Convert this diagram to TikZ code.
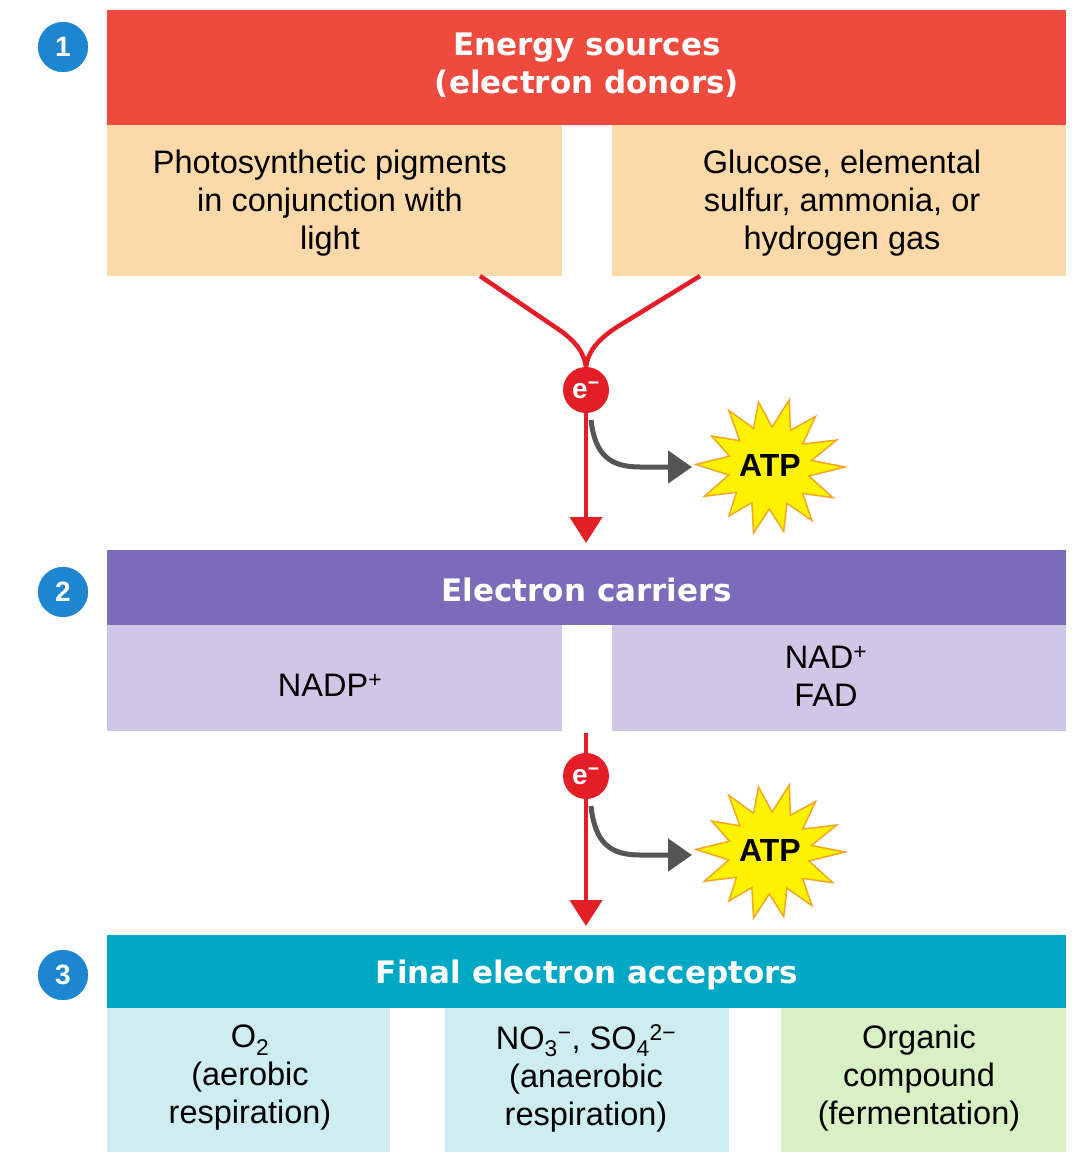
\documentclass[tikz,border=0pt]{standalone}
\usepackage{fontspec}
\setmainfont{Liberation Sans}
\newfontfamily\hdrfont{DejaVu Sans}[FakeStretch=1.0]
\usetikzlibrary{arrows.meta}
\definecolor{hred}{HTML}{EE4B3E}
\definecolor{orb}{HTML}{FCD9A8}
\definecolor{hpur}{HTML}{7B6BBA}
\definecolor{lpur}{HTML}{D0C6E6}
\definecolor{hteal}{HTML}{00A8C6}
\definecolor{lcy}{HTML}{CDEDF0}
\definecolor{lgr}{HTML}{D9EFC4}
\definecolor{nblue}{HTML}{1C86D1}
\definecolor{ered}{HTML}{E31E26}
\definecolor{agray}{HTML}{555555}
\definecolor{ayel}{HTML}{FFF200}
\definecolor{aor}{HTML}{F5A623}
\newcommand{\mystarburst}[1]{%
  \fill[ayel, draw=aor, line width=1.5pt] #1
   +(0:75) -- +(13:40) -- +(26:70) -- +(39:42) -- +(52:68) -- +(65:40) -- +(78:66)
   -- +(91:42) -- +(104:68) -- +(117:40) -- +(130:64) -- +(143:42) -- +(156:72)
   -- +(169:42) -- +(182:74) -- +(195:42) -- +(208:66) -- +(221:40) -- +(234:70)
   -- +(247:42) -- +(260:66) -- +(273:40) -- +(286:70) -- +(299:42) -- +(312:68)
   -- +(325:40) -- +(338:72) -- +(351:42) -- cycle;}
\begin{document}
\begin{tikzpicture}[x=1pt,y=-1pt,
  txt/.style={font=\fontsize{32.5}{38}\selectfont, align=center, text=black},
  hdr/.style={font=\hdrfont\fontsize{31}{38}\selectfont\bfseries, align=center, text=white},
  num/.style={circle, fill=nblue, draw=white, line width=1.5pt, minimum size=52pt, inner sep=0, text=white, font=\fontsize{28}{30}\selectfont\bfseries},
  ecirc/.style={circle, fill=ered, minimum size=46pt, inner sep=0, text=white, font=\fontsize{28}{30}\selectfont\bfseries},
  eline/.style={draw=ered, line width=4.5pt},
  garrow/.style={draw=agray, line width=5pt, -{Triangle[length=24pt,width=32pt]}},
  atp/.style={inner sep=0, font=\fontsize{32}{34}\selectfont\bfseries}]
\useasboundingbox (0,0) rectangle (1086,1158);
% section 1
\fill[hred] (107,10) rectangle (1066,125);
\fill[orb] (107,125) rectangle (562,276);
\fill[orb] (612,125) rectangle (1066,276);
\node[num] (n1) at (63,47) {1};
\node[hdr] (h1) at (587,65) {Energy sources\\(electron donors)};
\node[txt] (d1) at (330,203) {Photosynthetic pigments\\in conjunction with\\light};
\node[txt] (d2) at (842,203) {Glucose, elemental\\sulfur, ammonia, or\\hydrogen gas};
\coordinate (s1) at (480,276);
\coordinate (s2) at (700,276);
\node[ecirc] (e1) at (586,390) {e\textsuperscript{−}};
\draw[eline] (s1) -- (555,327) .. controls (575,340) and (584,352) .. (e1.north);
\draw[eline] (s2) -- (617,327) .. controls (597,340) and (588,352) .. (e1.north);
\coordinate (t1) at (586,543);
\draw[eline, -{Triangle[length=26pt,width=32pt]}] (e1.south) -- (t1);
\mystarburst{(770,467)}
\node[atp] (a1) at (770,465) {ATP};
\draw[garrow] (591,420) .. controls (595,455) and (610,467) .. (640,467) -- (692,467);
% section 2
\fill[hpur] (107,550) rectangle (1066,625);
\fill[lpur] (107,625) rectangle (562,731);
\fill[lpur] (612,625) rectangle (1066,731);
\node[num] (n2) at (63,592) {2};
\node[hdr] (h2) at (587,590) {Electron carriers};
\node[txt] (c1) at (330,685) {NADP\textsuperscript{+}};
\node[txt] (c2) at (826,676) {NAD\textsuperscript{+}\\FAD};
\coordinate (s3) at (586,733);
\node[ecirc] (e2) at (586,776) {e\textsuperscript{−}};
\draw[eline] (s3) -- (e2.north);
\coordinate (t2) at (586,926);
\draw[eline, -{Triangle[length=26pt,width=32pt]}] (e2.south) -- (t2);
\mystarburst{(770,852)}
\node[atp] (a2) at (770,850) {ATP};
\draw[garrow] (591,806) .. controls (595,843) and (610,855) .. (640,855) -- (692,855);
% section 3
\fill[hteal] (107,935) rectangle (1066,1008);
\fill[lcy] (107,1008) rectangle (390,1152);
\fill[lcy] (445,1008) rectangle (729,1152);
\fill[lgr] (781,1008) rectangle (1066,1152);
\node[num] (n3) at (63,975) {3};
\node[hdr] (h3) at (587,975) {Final electron acceptors};
\node[txt] (f1) at (250,1078) {O\textsubscript{2}\\(aerobic\\respiration)};
\node[txt] (f2) at (586,1078) {NO\textsubscript{3}\textsuperscript{−}, SO\textsubscript{4}\textsuperscript{2−}\\(anaerobic\\respiration)};
\node[txt] (f3) at (919,1078) {Organic\\compound\\(fermentation)};
\end{tikzpicture}
\end{document}
